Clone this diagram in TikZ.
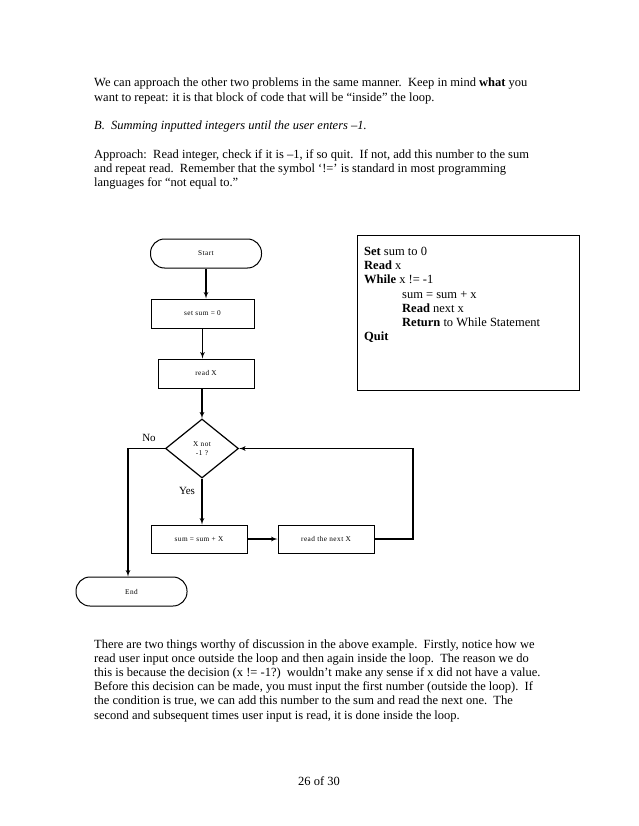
\documentclass[tikz,border=0pt]{standalone}
\usepackage{fontspec}
\setmainfont{Liberation Serif}
\newfontfamily\chartfont[LetterSpace=6]{Liberation Serif}
\usepackage{tikz}
\usetikzlibrary{arrows}
\usetikzlibrary{shapes.geometric}

\begin{document}
\begin{tikzpicture}[x=1pt,y=-1pt]
  \tikzset{para/.style = {anchor=north west,inner sep=0pt,align=left,font=\fontsize{12.5}{14.2}\selectfont}}
  \tikzset{block/.style = {shape=rectangle,draw,line width=1pt,minimum width=96pt,minimum height=28pt,inner sep=1pt,font=\chartfont\fontsize{7.3}{8.5}\selectfont}}
  \tikzset{term/.style = {block,rounded corners=14pt,minimum width=111pt,minimum height=29pt}}
  \tikzset{decision/.style = {shape=diamond,draw,line width=1.2pt,minimum width=73pt,minimum height=59pt,inner sep=0pt,align=center,font=\chartfont\fontsize{7.3}{9.5}\selectfont}}
  \tikzset{label/.style = {inner sep=0pt,font=\fontsize{11}{13}\selectfont}}
  \tikzset{flow/.style = {->,>=latex',line width=1.2pt}}
  \fill[white] (0,0) rectangle (638,826);
  \useasboundingbox (0,0) rectangle (638,826);

	\node[para] (intro) at (94,78) {We can approach the other two problems in the same manner.\ \ Keep in mind \textbf{what} you\\want to repeat: it is that block of code that will be “inside” the loop.};
	\node[para,font=\fontsize{12.5}{14.2}\selectfont\itshape] (heading) at (94,121) {B.\ \ Summing inputted integers until the user enters –1.};
	\node[para] (approach) at (94,149) {Approach:\ \ Read integer, check if it is –1, if so quit.\ \ If not, add this number to the sum\\and repeat read.\ \ Remember that the symbol ‘!=’ is standard in most programming\\languages for “not equal to.”};

	\node[term] (start) at (206,253.5) {Start};
	\node[block,minimum width=103pt,minimum height=29pt] (setsum) at (202.5,313.5) {set sum = 0};
	\node[block,minimum height=29pt] (readx) at (206,373.5) {read X};
	\node[decision] (check) at (202,448.5) {X not\\-1 ?};
	\node[block] (sum) at (199,539) {sum = sum + X};
	\node[block] (readnext) at (326,539) {read the next X};
	\node[term] (end) at (131.5,591.5) {End};
	\node[label] (no) at (149,438) {No};
	\node[label] (yes) at (187,491) {Yes};
	\coordinate (nobend) at (128,448.5);
	\coordinate (loopbend) at (413,539);

	\draw[flow] (start) -- (start |- setsum.north);
	\draw[flow] (setsum.south) -- (setsum.south |- readx.north);
	\draw[flow] (readx.south -| check) -- (check.north);
	\draw[flow] (check.south) -- (check.south |- sum.north);
	\draw[flow] (sum) -- (readnext);
	\draw[flow] (readnext) -- (loopbend) |- (check.east);
	\draw[flow] (check.west) -- (nobend) -- (nobend |- end.north);

	\node[draw,line width=1pt,minimum width=222pt,minimum height=155pt,inner sep=0pt] (codebox) at (468,312.5) {};
	\node[para] (code) at (364,247) {\textbf{Set} sum to 0\\\textbf{Read} x\\\textbf{While} x != -1\\\hspace*{38pt}sum = sum + x\\\hspace*{38pt}\textbf{Read} next x\\\hspace*{38pt}\textbf{Return} to While Statement\\\textbf{Quit}};

	\node[para] (discussion) at (94,639) {There are two things worthy of discussion in the above example.\ \ Firstly, notice how we\\read user input once outside the loop and then again inside the loop.\ \ The reason we do\\this is because the decision (x != -1?)\ \ wouldn’t make any sense if x did not have a value.\\Before this decision can be made, you must input the first number (outside the loop).\ \ If\\the condition is true, we can add this number to the sum and read the next one.\ \ The\\second and subsequent times user input is read, it is done inside the loop.};
	\node[label,font=\fontsize{12.5}{14.2}\selectfont] (pagenum) at (319,781) {26 of 30};
\end{tikzpicture}
\end{document}
